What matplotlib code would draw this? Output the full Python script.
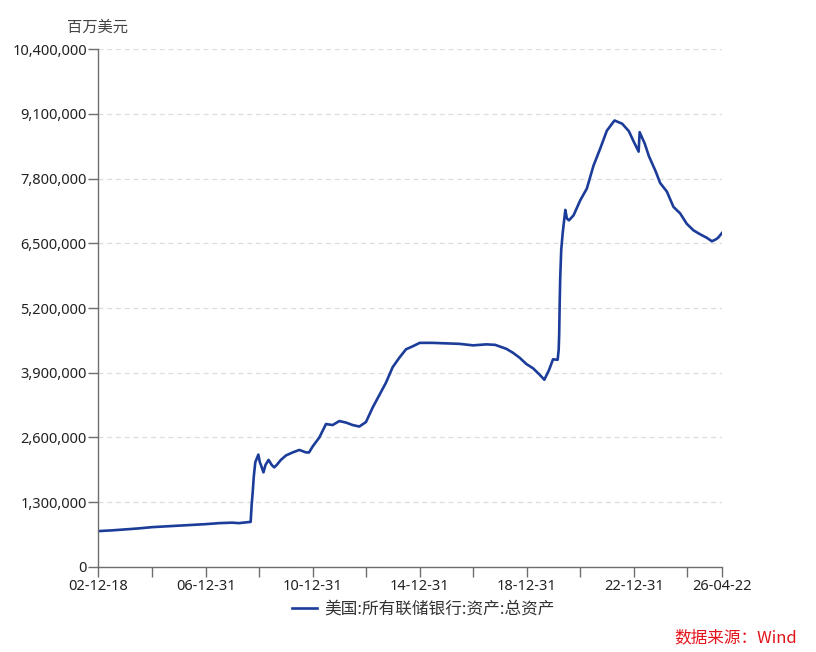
import matplotlib
matplotlib.use("Agg")
import matplotlib.pyplot as plt
import pandas as pd

plt.rcParams['font.family'] = ['Noto Sans CJK SC', 'DejaVu Sans']

# ---- data (millions USD) ----
dates = [
    "2002-12-18", "2003-06-25", "2003-12-31", "2004-06-30", "2004-12-29", "2005-06-29",
    "2005-12-28", "2006-06-28", "2006-12-27", "2007-06-27", "2007-12-26", "2008-03-26",
    "2008-06-25", "2008-09-03", "2008-09-17", "2008-10-01", "2008-10-15", "2008-11-05",
    "2008-12-17", "2009-01-07", "2009-01-21", "2009-02-25", "2009-03-25", "2009-05-06",
    "2009-06-17", "2009-07-22", "2009-08-26", "2009-10-21", "2009-12-30", "2010-03-31",
    "2010-06-30", "2010-09-29", "2010-11-10", "2010-12-29", "2011-03-30", "2011-06-29",
    "2011-09-28", "2011-12-28", "2012-03-28", "2012-06-27", "2012-09-26", "2012-12-26",
    "2013-03-27", "2013-06-26", "2013-09-25", "2013-12-25", "2014-03-26", "2014-06-25",
    "2014-09-24", "2014-12-31", "2015-06-24", "2015-12-30", "2016-06-29", "2016-12-28",
    "2017-06-28", "2017-10-25", "2018-03-28", "2018-06-27", "2018-09-26", "2018-12-26",
    "2019-03-27", "2019-06-26", "2019-08-28", "2019-10-30", "2019-12-25", "2020-02-26",
    "2020-03-11", "2020-03-18", "2020-03-25", "2020-04-01", "2020-04-15", "2020-05-06",
    "2020-06-10", "2020-07-01", "2020-07-29", "2020-09-30", "2020-12-30", "2021-03-31",
    "2021-06-30", "2021-09-29", "2021-12-29", "2022-03-30", "2022-04-13", "2022-07-27",
    "2022-10-26", "2022-12-28", "2023-03-08", "2023-03-22", "2023-05-31", "2023-07-26",
    "2023-10-25", "2023-12-27", "2024-03-27", "2024-06-26", "2024-09-25", "2024-12-25",
    "2025-03-26", "2025-06-25", "2025-09-24", "2025-12-03", "2026-01-28", "2026-02-25",
    "2026-04-22",
]
total_assets = [
    720000, 735000, 755000, 775000, 800000, 815000,
    830000, 845000, 860000, 880000, 890000, 880000,
    895000, 905000, 1250000, 1500000, 1800000, 2100000,
    2256000, 2100000, 2050000, 1900000, 2050000, 2150000,
    2050000, 2000000, 2050000, 2150000, 2240000, 2300000,
    2350000, 2300000, 2300000, 2420000, 2600000, 2870000,
    2850000, 2930000, 2900000, 2850000, 2820000, 2910000,
    3200000, 3450000, 3700000, 4010000, 4200000, 4370000,
    4430000, 4500000, 4500000, 4490000, 4480000, 4450000,
    4470000, 4460000, 4380000, 4300000, 4200000, 4075000,
    3990000, 3860000, 3760000, 3950000, 4170000, 4160000,
    4360000, 4670000, 5300000, 5800000, 6370000, 6720000,
    7170000, 7000000, 6960000, 7060000, 7360000, 7600000,
    8060000, 8400000, 8760000, 8940000, 8965000, 8900000,
    8750000, 8550000, 8340000, 8730000, 8500000, 8250000,
    7950000, 7710000, 7540000, 7230000, 7100000, 6890000,
    6760000, 6680000, 6610000, 6540000, 6580000, 6610000,
    6710000,
]
series_name = "美国:所有联储银行:资产:总资产"
unit_label = "百万美元"
source_text = "数据来源：Wind"
y_ticks = [0, 1300000, 2600000, 3900000, 5200000, 6500000, 7800000, 9100000, 10400000]
labeled_dates = ["2002-12-18", "2006-12-31", "2010-12-31", "2014-12-31",
                 "2018-12-31", "2022-12-31", "2026-04-22"]
x_tick_dates = ["2002-12-18"] + [f"{y}-12-31" for y in range(2004, 2025, 2)] + ["2026-04-22"]

x = pd.to_datetime(dates)

fig = plt.figure(figsize=(8.16, 6.52), dpi=100)
ax = fig.add_axes([0.120, 0.1304, 0.765, 0.7944])

line, = ax.plot(x, total_assets, color="#1C3C9A", lw=1.9, label=series_name)

ax.set_ylim(0, 10400000)
ax.set_xlim(pd.Timestamp(dates[0]), pd.Timestamp(dates[-1]))
ax.set_yticks(y_ticks)
ax.set_yticklabels([f"{v:,}" for v in y_ticks])

xt = pd.to_datetime(x_tick_dates)
ax.set_xticks(xt)
lab_set = set(labeled_dates)
ax.set_xticklabels([d.strftime("%y-%m-%d") if d.strftime("%Y-%m-%d") in lab_set else "" for d in xt])

for s in ["top", "right"]:
    ax.spines[s].set_visible(False)
for s in ["left", "bottom"]:
    ax.spines[s].set_color("#6e6e6e")
    ax.spines[s].set_linewidth(1.0)

ax.tick_params(axis="both", colors="#6e6e6e", length=7, width=1.0,
               labelcolor="#222222", labelsize=10.5)
ax.tick_params(axis="y", pad=1)
ax.tick_params(axis="x", pad=2)
for lbl in ax.get_xticklabels() + ax.get_yticklabels():
    lbl.set_family(["Noto Sans", "DejaVu Sans"])

ax.grid(axis="y", color="#dddddd", linestyle=(0, (4, 3)), linewidth=0.9)
ax.grid(axis="x", visible=False)
ax.set_axisbelow(True)

fig.text(0.120, 1 - 27 / 652, unit_label, ha="center", va="center",
         fontsize=11, color="#444444")

fig.legend(handles=[line], loc="center", bbox_to_anchor=(0.519, 1 - 609 / 652),
           frameon=False, fontsize=12, handlelength=1.5, handletextpad=0.4,
           labelcolor="#333333")

fig.text(797 / 816, 1 - 638 / 652, source_text, ha="right", va="center",
         fontsize=12, color="#E3131B")

fig.savefig("out.png", dpi=100)
